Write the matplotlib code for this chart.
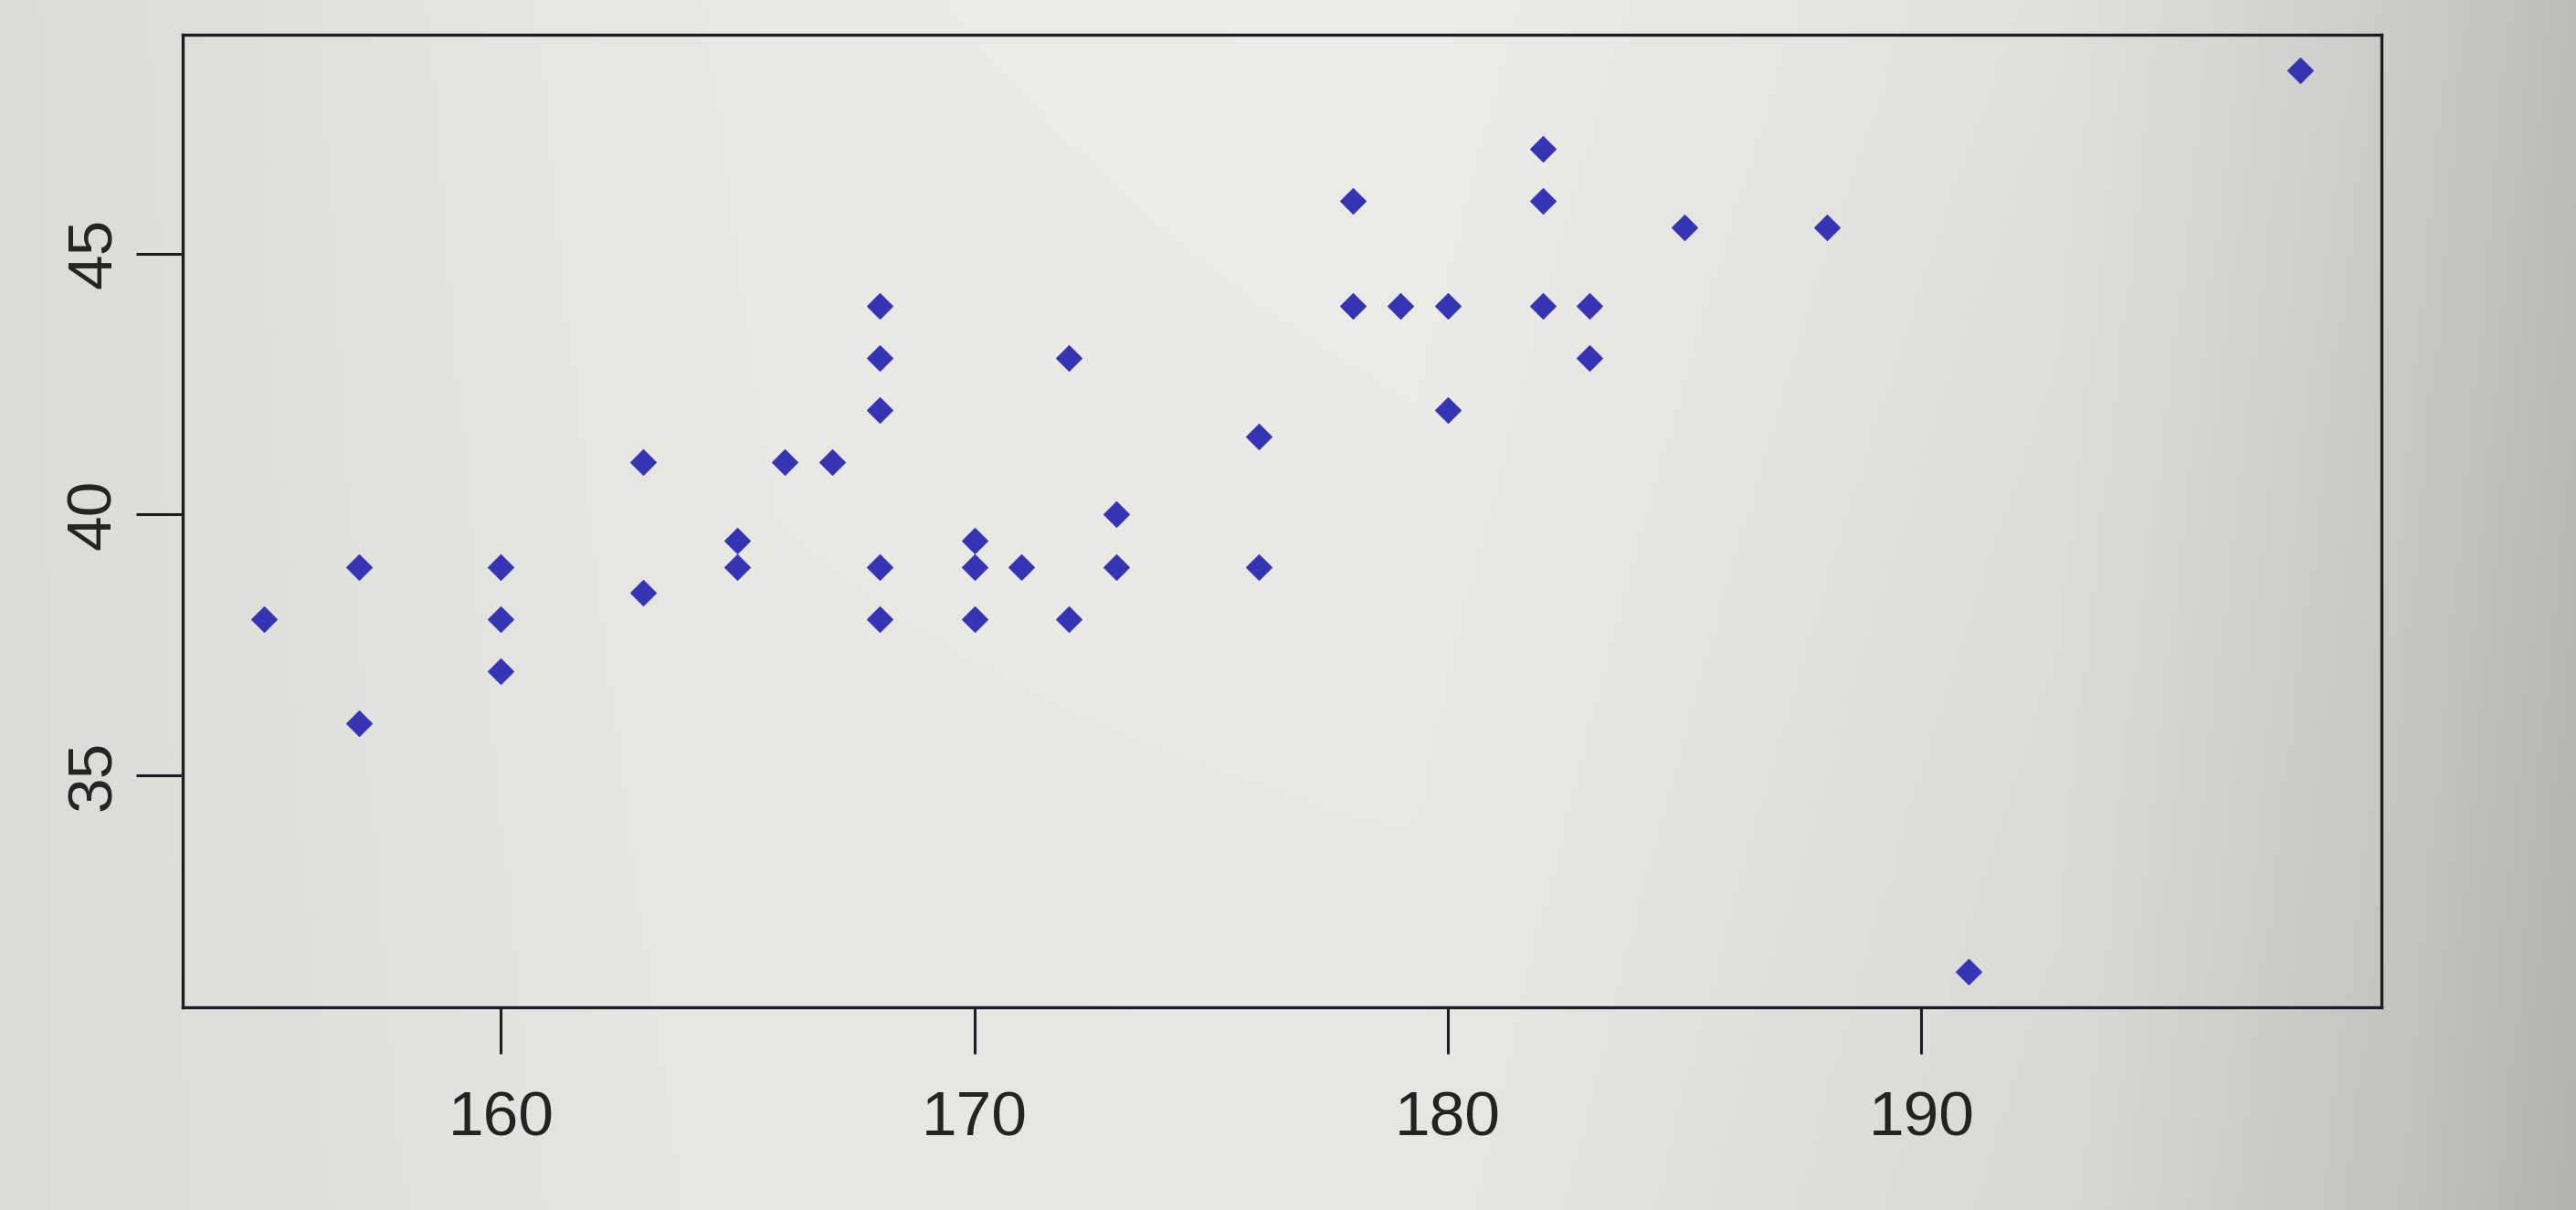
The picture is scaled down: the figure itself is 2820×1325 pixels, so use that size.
import numpy as np
import matplotlib
matplotlib.use("Agg")
import matplotlib.pyplot as plt

# ---- data (height in cm vs. shoe size) ----
height_cm = [155, 157, 157, 160, 160, 160, 163, 163, 165, 165, 166, 167,
             168, 168, 168, 168, 168, 170, 170, 170, 171, 172, 172, 173, 173,
             176, 176, 178, 178, 179, 180, 180, 182, 182, 182, 183, 183,
             185, 188, 191, 198]
shoe_size = [38, 39, 36, 39, 38, 37, 41, 38.5, 39.5, 39, 41, 41,
             44, 43, 42, 39, 38, 39.5, 39, 38, 39, 38, 43, 40, 39,
             41.5, 39, 46, 44, 44, 44, 42, 47, 46, 44, 44, 43,
             45.5, 45.5, 31.25, 48.5]
x_ticks = [160, 170, 180, 190]
y_ticks = [35, 40, 45]

plt.rcParams['font.family'] = ['Liberation Sans Narrow', 'Liberation Sans', 'DejaVu Sans']

fig = plt.figure(figsize=(28.2, 13.25), dpi=100)

# photographed-screen background (soft gradient)
bg = fig.add_axes([0, 0, 1, 1], zorder=-10)
bg.axis('off')
gx = np.linspace(0, 1, 600)
gy = np.linspace(0, 1, 300)
GX, GY = np.meshgrid(gx, gy)
prof = np.interp(GX, [0.0, 0.3, 0.55, 0.8, 0.93, 1.0], [0.86, 0.915, 0.925, 0.88, 0.80, 0.74])
prof = prof - 0.04 * GY * GX
rgb = np.dstack([prof, prof, prof - 0.012])
bg.imshow(np.clip(rgb, 0, 1), aspect='auto', extent=[0, 1, 0, 1], origin='upper')
bg.set_xlim(0, 1)
bg.set_ylim(0, 1)

ax = fig.add_axes([0.0709, 0.1675, 0.8536, 0.8038])
ax.set_facecolor('none')

ax.plot(height_cm, shoe_size, linestyle='none', marker='D', markersize=14,
        color='#3434b4', markeredgecolor='#3a3ab8', markeredgewidth=0.8)

# R-style 4% padding of the data range
xr = max(height_cm) - min(height_cm)
yr = max(shoe_size) - min(shoe_size)
ax.set_xlim(min(height_cm) - 0.04 * xr, max(height_cm) + 0.04 * xr)
ax.set_ylim(min(shoe_size) - 0.04 * yr, max(shoe_size) + 0.04 * yr)

ax.set_xticks(x_ticks)
ax.set_yticks(y_ticks)
ax.set_xticklabels([str(v) for v in x_ticks])
ax.set_yticklabels([str(v) for v in y_ticks])

for sp in ax.spines.values():
    sp.set_linewidth(2.4)
    sp.set_color('#1c1c22')

ax.tick_params(axis='both', direction='out', length=37, width=2.2,
               color='#1c1c22', labelsize=50, labelcolor='#232323')
ax.tick_params(axis='x', pad=28)
ax.tick_params(axis='y', pad=10, labelrotation=90)
for lab in ax.get_yticklabels():
    lab.set_va('center')

fig.savefig('out.png', dpi=100)
